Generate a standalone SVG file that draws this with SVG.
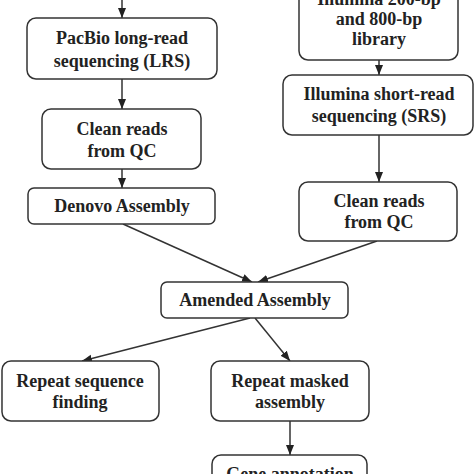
<svg xmlns="http://www.w3.org/2000/svg" width="474" height="474" viewBox="0 0 474 474">
<defs>
<marker id="ah" markerWidth="10" markerHeight="10" viewBox="0 0 10 10" refX="10" refY="5" orient="auto" markerUnits="userSpaceOnUse">
<path d="M0,1 L10,5 L0,9 Z" fill="#222"/>
</marker>
<style>
rect{fill:#fff;stroke:#333;stroke-width:1.5}
text{font-family:"Liberation Serif","Times New Roman",serif;font-weight:bold;font-size:18px;fill:#222;text-anchor:middle}
#edges line{stroke:#333;stroke-width:1.5;marker-end:url(#ah)}
</style>
</defs>
<rect x="0" y="0" width="474" height="474" style="fill:#fff;stroke:none"/>
<g id="edges">
<line x1="122" y1="0" x2="122" y2="18"/>
<line x1="122" y1="79" x2="122" y2="109"/>
<line x1="122" y1="169" x2="122" y2="188"/>
<line x1="379" y1="60" x2="379" y2="75"/>
<line x1="379" y1="135" x2="379" y2="182"/>
<line x1="123" y1="224" x2="252" y2="282"/>
<line x1="377" y1="241" x2="258" y2="282"/>
<line x1="250" y1="318" x2="82" y2="361"/>
<line x1="255" y1="318" x2="290" y2="361"/>
<line x1="290" y1="421" x2="290" y2="455"/>
</g>
<g id="n_pacbio">
<rect x="27" y="18" width="190" height="61" rx="9"/>
<text x="122" y="44">PacBio long-read</text>
<text x="122" y="67">sequencing (LRS)</text>
</g>
<g id="n_clean_left">
<rect x="42" y="109" width="159" height="60" rx="9"/>
<text x="122" y="135">Clean reads</text>
<text x="122" y="157">from QC</text>
</g>
<g id="n_denovo">
<rect x="28" y="188" width="187" height="36" rx="6"/>
<text x="122" y="212">Denovo Assembly</text>
</g>
<g id="n_illumina_lib">
<rect x="299" y="-20" width="159" height="80" rx="9"/>
<text x="379" y="5">Illumina 200-bp</text>
<text x="379" y="25">and 800-bp</text>
<text x="379" y="45">library</text>
</g>
<g id="n_srs">
<rect x="283" y="75" width="190" height="60" rx="9"/>
<text x="379" y="100">Illumina short-read</text>
<text x="379" y="122">sequencing (SRS)</text>
</g>
<g id="n_clean_right">
<rect x="299" y="182" width="158" height="59" rx="9"/>
<text x="379" y="207">Clean reads</text>
<text x="379" y="228">from QC</text>
</g>
<g id="n_amended">
<rect x="161" y="282" width="187" height="36" rx="6"/>
<text x="255" y="306">Amended Assembly</text>
</g>
<g id="n_repeat_find">
<rect x="2" y="361" width="157" height="60" rx="9"/>
<text x="80" y="387">Repeat sequence</text>
<text x="80" y="408">finding</text>
</g>
<g id="n_repeat_mask">
<rect x="211" y="361" width="158" height="60" rx="9"/>
<text x="290" y="387">Repeat masked</text>
<text x="290" y="408">assembly</text>
</g>
<g id="n_gene">
<rect x="212" y="455" width="155" height="40" rx="9"/>
<text x="290" y="480">Gene annotation</text>
</g>
</svg>
